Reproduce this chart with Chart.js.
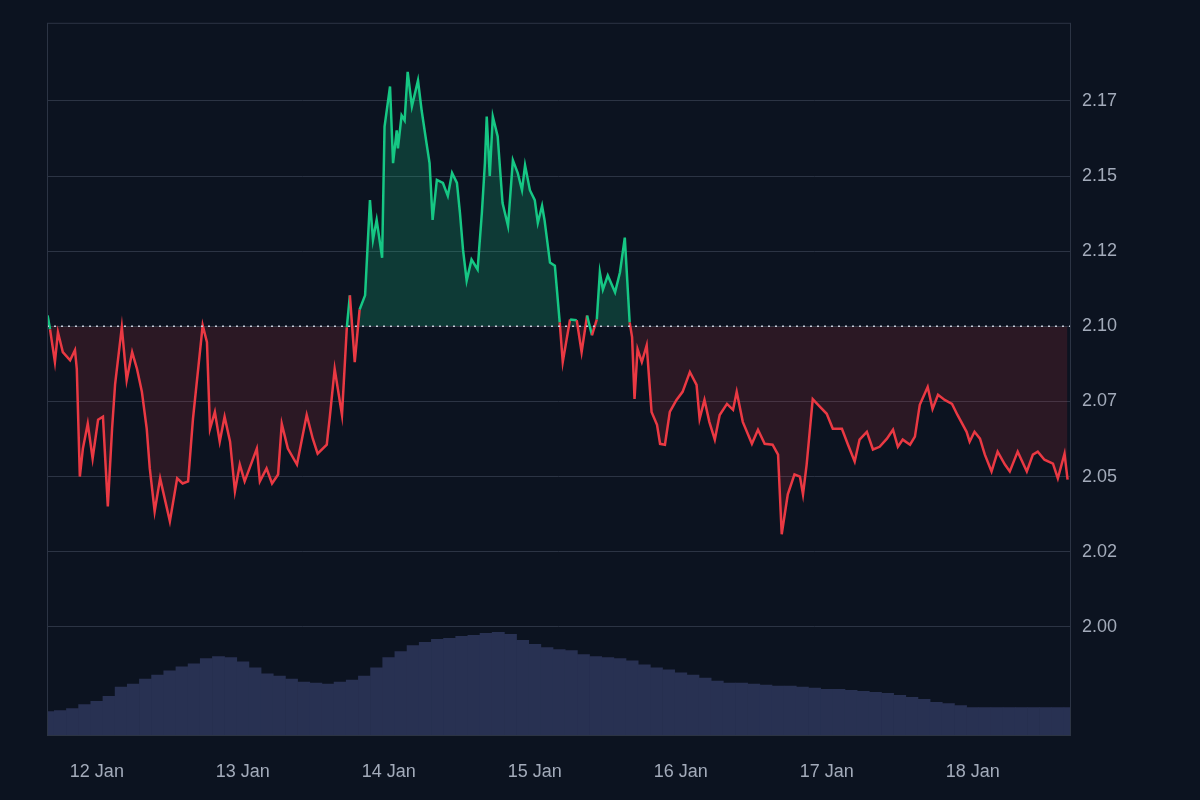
<!DOCTYPE html>
<html><head><meta charset="utf-8">
<script src="https://cdn.jsdelivr.net/npm/chart.js@4"></script>
<style>html,body{margin:0;background:#0c1320;}#w{width:1200px;height:800px;}</style>
</head><body><div id="w"><canvas id="c"></canvas></div>
<script>
const hours=[-8.1,-7.7,-6.9,-6.4,-5.6,-4.4,-3.6,-3.3,-2.8,-2.3,-1.5,-0.7,0.2,1.0,1.8,2.5,3.0,4.1,4.9,5.8,6.6,7.4,8.2,8.7,9.5,10.4,12.0,13.2,14.1,15.0,15.8,17.4,18.1,18.6,19.4,20.2,21.0,21.9,22.7,23.5,24.3,25.2,26.3,26.8,27.9,28.8,29.8,30.4,31.4,32.9,34.5,35.5,36.3,37.8,38.3,39.1,40.3,41.1,41.6,42.4,43.2,44.1,44.9,45.4,46.0,46.9,47.3,48.2,48.7,49.3,49.5,50.1,50.6,51.1,51.8,52.8,53.4,54.2,54.7,55.2,55.9,56.9,57.7,58.4,59.2,59.7,60.2,60.8,61.6,62.6,63.3,63.8,64.1,64.6,65.1,65.9,66.7,67.6,68.4,69.2,69.9,70.4,71.2,72.0,72.5,73.2,73.6,74.5,75.3,76.1,76.6,77.8,78.9,79.7,80.6,81.4,82.2,82.7,83.2,84.0,85.2,86.0,86.8,87.6,88.0,88.4,88.9,89.6,90.4,91.2,92.1,92.6,93.4,94.2,95.3,96.3,97.5,98.6,99.1,99.9,100.7,101.6,102.4,103.6,104.6,105.2,106.2,107.7,108.7,109.8,111.1,112.0,112.6,113.6,114.7,115.6,116.1,116.7,117.7,118.9,120.0,121.0,122.5,123.5,124.6,125.4,126.6,127.6,128.7,129.9,130.9,131.7,132.5,133.7,134.5,135.3,136.6,137.4,138.3,139.4,140.6,141.5,143.0,143.5,144.3,145.2,146.0,147.1,148.1,149.3,150.1,151.4,152.9,153.9,154.7,155.8,157.2,158.0,159.1,159.6];
const prices=[2.1036,2.0990,2.0881,2.0980,2.0914,2.0887,2.0921,2.0858,2.0500,2.0593,2.0676,2.0560,2.0689,2.0699,2.0401,2.0659,2.0808,2.0997,2.0821,2.0914,2.0858,2.0782,2.0659,2.0527,2.0384,2.0494,2.0351,2.0494,2.0477,2.0484,2.0692,2.1003,2.0947,2.0659,2.0715,2.0616,2.0699,2.0616,2.0451,2.0540,2.0484,2.0533,2.0593,2.0484,2.0527,2.0477,2.0507,2.0676,2.0593,2.0540,2.0705,2.0626,2.0576,2.0606,2.0699,2.0858,2.0705,2.0997,2.1103,2.0881,2.1056,2.1103,2.1420,2.1288,2.1354,2.1228,2.1665,2.1798,2.1543,2.1652,2.1592,2.1702,2.1685,2.1847,2.1732,2.1818,2.1718,2.1609,2.1543,2.1354,2.1487,2.1477,2.1434,2.1510,2.1477,2.1377,2.1255,2.1152,2.1222,2.1189,2.1377,2.1543,2.1698,2.1500,2.1698,2.1632,2.1410,2.1334,2.1553,2.1510,2.1453,2.1536,2.1453,2.1420,2.1344,2.1401,2.1354,2.1212,2.1202,2.1013,2.0881,2.1023,2.1020,2.0914,2.1036,2.0970,2.1023,2.1179,2.1122,2.1169,2.1113,2.1179,2.1295,2.1013,2.0964,2.0758,2.0924,2.0881,2.0937,2.0715,2.0672,2.0609,2.0606,2.0715,2.0755,2.0782,2.0848,2.0805,2.0692,2.0755,2.0682,2.0623,2.0705,2.0742,2.0722,2.0782,2.0682,2.0609,2.0656,2.0609,2.0606,2.0573,2.0308,2.0441,2.0507,2.0500,2.0441,2.0540,2.0758,2.0732,2.0709,2.0659,2.0659,2.0606,2.0550,2.0623,2.0649,2.0590,2.0599,2.0626,2.0656,2.0599,2.0623,2.0606,2.0633,2.0739,2.0798,2.0725,2.0772,2.0755,2.0742,2.0705,2.0649,2.0616,2.0649,2.0626,2.0573,2.0517,2.0583,2.0540,2.0517,2.0583,2.0517,2.0573,2.0583,2.0556,2.0543,2.0494,2.0576,2.0490];
const volumes=[23,24,26,30,33,38,47,50,55,59,63,67,70,75,77,76,72,66,60,58,55,52,51,50,52,54,58,66,76,82,88,91,94,95,97,98,100,101,99,93,89,86,84,83,79,77,76,75,73,69,66,64,61,59,56,53,51,51,50,49,48,48,47,46,45,45,44,43,42,41,39,37,35,32,31,29,27,27,27,27,27,27,27,27,27];
const volStart=-8, volStep=2;
const baseline=2.10;
const yTicks=[2.0,2.025,2.05,2.075,2.10,2.125,2.15,2.175];
const yTickLabels=["2.00","2.02","2.05","2.07","2.10","2.12","2.15","2.17"];
const xTicks=[0,24,48,72,96,120,144];
const xTickLabels=["12 Jan","13 Jan","14 Jan","15 Jan","16 Jan","17 Jan","18 Jan"];
const xMin=-8.2,xMax=160;

const GREEN='#16c784',RED='#ea3943';
const priceData=hours.map((h,i)=>({x:h,y:prices[i]}));
const volData=volumes.map((v,i)=>({x:volStart+i*volStep,y:v}));
const frame={id:'frame',afterDraw(c){const a=c.chartArea,g=c.ctx;g.save();g.strokeStyle='#2c3444';g.lineWidth=1;g.strokeRect(a.left+0.5,a.top+0.5,a.right-a.left,a.bottom-a.top);g.restore();}};
new Chart(document.getElementById('c'),{
 data:{datasets:[
  {type:'line',data:[{x:xMin,y:baseline},{x:xMax,y:baseline}],borderColor:'#c8cfdc',borderWidth:1.5,borderDash:[2,5],pointRadius:0,order:0,yAxisID:'y'},
  {type:'line',data:priceData,yAxisID:'y',order:1,borderWidth:2.5,pointRadius:0,tension:0,
   segment:{borderColor:ctx=>((ctx.p0.parsed.y+ctx.p1.parsed.y)/2>=baseline?GREEN:RED)},
   borderColor:RED,
   fill:{target:{value:baseline},above:'rgba(22,199,132,0.22)',below:'rgba(234,57,67,0.14)'}},
  {type:'bar',data:volData,yAxisID:'yv',order:3,backgroundColor:'#283152',barPercentage:1,categoryPercentage:1,borderWidth:0}
 ]},
 options:{responsive:true,maintainAspectRatio:false,animation:false,
  layout:{padding:{left:47,top:13,right:0,bottom:0}},
  plugins:{legend:{display:false},tooltip:{enabled:false}},
  scales:{
   x:{type:'linear',min:xMin,max:xMax,offset:false,grid:{display:false,offset:false},border:{display:false},
      afterBuildTicks:s=>{s.ticks=xTicks.map(v=>({value:v}));},
      afterFit:s=>{s.height=65;},
      ticks:{color:'#a3abba',font:{family:'Liberation Sans',size:18},padding:18,maxRotation:0,autoSkip:false,
        callback:(v)=>{const i=xTicks.indexOf(v);return i>=0?xTickLabels[i]:'';}}},
   y:{position:'right',min:1.964,max:2.201,grid:{color:'#2c3444',drawTicks:false},border:{display:false},
      afterBuildTicks:s=>{s.ticks=yTicks.map(v=>({value:v}));},
      afterFit:s=>{s.width=130;},
      ticks:{color:'#a3abba',font:{family:'Liberation Sans',size:18},padding:12,autoSkip:false,
        callback:(v)=>{const i=yTicks.findIndex(t=>Math.abs(t-v)<1e-6);return i>=0?yTickLabels[i]:'';}}},
   yv:{display:false,min:0,max:700}
  }},
 plugins:[frame]
});
</script></body></html>
